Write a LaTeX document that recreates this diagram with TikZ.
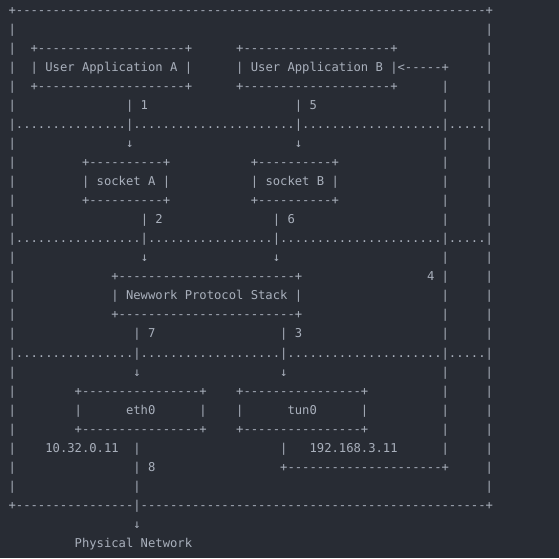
\documentclass[tikz,border=0pt]{standalone}
\usepackage{fontspec}
\setmonofont{DejaVu Sans Mono}
\ExplSyntaxOn
\cs_new:Npn \reptok #1#2 { \prg_replicate:nn {#1} {#2} }
\ExplSyntaxOff
\definecolor{bg}{HTML}{282C34}
\definecolor{fg}{HTML}{A9B0BC}
\tikzset{ch/.style={anchor=base west,inner sep=0pt,outer sep=0pt,text=fg,
  font=\ttfamily\fontsize{12.19pt}{14pt}\selectfont}}
\newcommand\seg[3]{\node[ch] (s#1-#2) at ({8.63+7.34*#2},{14.3+19.04*#1}) {#3};}
\newcommand\bars[1]{\seg{#1}{0}{|}\seg{#1}{65}{|}}
\newcommand\barsi[1]{\seg{#1}{0}{|}\seg{#1}{59}{|}\seg{#1}{65}{|}}
\begin{document}
\begin{tikzpicture}[x=1pt,y=-1pt]
\fill[bg] (0,0) rectangle (559,558);
\useasboundingbox (0,0) rectangle (559,558);
% row 0
\seg{0}{0}{+\reptok{64}{-}+}
\bars{1}
\bars{2}
\seg{2}{3}{+\reptok{20}{-}+}
\seg{2}{31}{+\reptok{20}{-}+}
\bars{3}
\seg{3}{3}{| User Application A |}
\seg{3}{31}{| User Application B |<\reptok{5}{-}+}
\barsi{4}
\seg{4}{3}{+\reptok{20}{-}+}
\seg{4}{31}{+\reptok{20}{-}+}
\barsi{5}
\seg{5}{16}{| 1}
\seg{5}{39}{| 5}
\seg{6}{0}{|\reptok{15}{.}|\reptok{22}{.}|\reptok{19}{.}|\reptok{5}{.}|}
\barsi{7}
\seg{7}{16}{↓}
\seg{7}{39}{↓}
\barsi{8}
\seg{8}{10}{+\reptok{10}{-}+}
\seg{8}{33}{+\reptok{10}{-}+}
\barsi{9}
\seg{9}{10}{| socket A |}
\seg{9}{33}{| socket B |}
\barsi{10}
\seg{10}{10}{+\reptok{10}{-}+}
\seg{10}{33}{+\reptok{10}{-}+}
\barsi{11}
\seg{11}{18}{| 2}
\seg{11}{36}{| 6}
\seg{12}{0}{|\reptok{17}{.}|\reptok{17}{.}|\reptok{22}{.}|\reptok{5}{.}|}
\barsi{13}
\seg{13}{18}{↓}
\seg{13}{36}{↓}
\barsi{14}
\seg{14}{14}{+\reptok{24}{-}+}
\seg{14}{57}{4}
\barsi{15}
\seg{15}{14}{| Newwork Protocol Stack |}
\barsi{16}
\seg{16}{14}{+\reptok{24}{-}+}
\barsi{17}
\seg{17}{17}{| 7}
\seg{17}{37}{| 3}
\seg{18}{0}{|\reptok{16}{.}|\reptok{19}{.}|\reptok{21}{.}|\reptok{5}{.}|}
\barsi{19}
\seg{19}{17}{↓}
\seg{19}{37}{↓}
\barsi{20}
\seg{20}{9}{+\reptok{16}{-}+}
\seg{20}{31}{+\reptok{16}{-}+}
\barsi{21}
\seg{21}{9}{|}
\seg{21}{16}{eth0}
\seg{21}{26}{|}
\seg{21}{31}{|}
\seg{21}{38}{tun0}
\seg{21}{48}{|}
\barsi{22}
\seg{22}{9}{+\reptok{16}{-}+}
\seg{22}{31}{+\reptok{16}{-}+}
\barsi{23}
\seg{23}{5}{10.32.0.11}
\seg{23}{17}{|}
\seg{23}{37}{|}
\seg{23}{41}{192.168.3.11}
\bars{24}
\seg{24}{17}{| 8}
\seg{24}{37}{+\reptok{21}{-}+}
\bars{25}
\seg{25}{17}{|}
\seg{26}{0}{+\reptok{16}{-}|\reptok{47}{-}+}
\seg{27}{17}{↓}
\seg{28}{9}{Physical Network}
\end{tikzpicture}
\end{document}
